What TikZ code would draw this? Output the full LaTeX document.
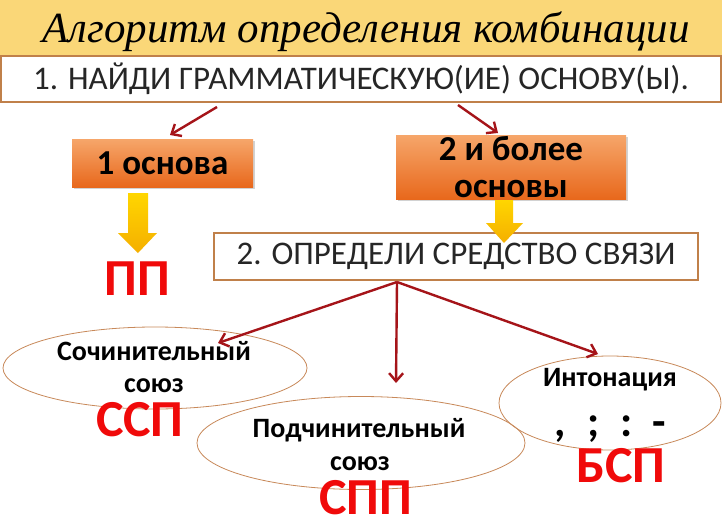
\documentclass[tikz,border=0pt]{standalone}
\usepackage{fontspec}
\setmainfont{Carlito}
\newfontfamily\titlefont{Liberation Serif}
\usetikzlibrary{arrows.meta,shapes.geometric,shadows}
\definecolor{band}{RGB}{250,215,120}
\definecolor{boxline}{RGB}{192,128,74}
\definecolor{arrowred}{RGB}{165,20,25}
\definecolor{abbrred}{RGB}{240,10,10}
\definecolor{orangetop}{RGB}{246,166,106}
\definecolor{orangebot}{RGB}{232,104,28}
\definecolor{ellline}{RGB}{200,137,90}
\definecolor{yeltop}{RGB}{255,214,0}
\definecolor{yelbot}{RGB}{245,175,0}
\begin{document}
\begin{tikzpicture}[x=1pt,y=-1pt,
  stepbox/.style={draw=boxline, line width=1.2pt, fill=white, inner sep=0pt,
    font=\fontsize{33}{38}\selectfont, text=black!85},
  orangebox/.style={top color=orangetop, bottom color=orangebot, inner sep=0pt,
    drop shadow={opacity=0.35,shadow xshift=2pt,shadow yshift=-2pt},
    align=center, font=\bfseries\fontsize{35}{37}\selectfont},
  connector/.style={draw=arrowred, line width=2.4pt,
    -{Straight Barb[length=8pt,width=14pt,line width=2.4pt]}},
  bigarrow/.style={top color=yeltop, bottom color=yelbot},
  oval/.style={ellipse, draw=ellline, line width=0.8pt, inner sep=0pt},
  ovaltext/.style={anchor=base, font=\bfseries\fontsize{28}{32}\selectfont},
  punct/.style={anchor=base, inner sep=0pt, font=\bfseries\fontsize{44}{44}\selectfont},
  abbr/.style={text=abbrred, font=\bfseries\fontsize{52}{52}\selectfont, inner sep=0pt}
]
\useasboundingbox (0,0) rectangle (722,519);
\fill[white] (0,0) rectangle (722,519);
% title band
\fill[band] (0,0) rectangle (722,56);
\node[anchor=base, font=\titlefont\itshape\fontsize{43}{48}\selectfont] (title) at (366,42) {Алгоритм определения комбинации};
% step 1
\node[stepbox, minimum width=720pt, minimum height=46pt] (s1) at (361,79) {1. НАЙДИ ГРАММАТИЧЕСКУЮ(ИЕ) ОСНОВУ(Ы).};
% orange boxes
\node[orangebox, minimum width=181pt, minimum height=48pt] (one) at (162.5,163) {1 основа};
\node[orangebox, minimum width=230pt, minimum height=64pt] (two) at (511,167) {2 и более\\основы};
% step 2
\node[stepbox, minimum width=484pt, minimum height=47pt] (s2) at (456,256.5) {2. ОПРЕДЕЛИ СРЕДСТВО СВЯЗИ};
% yellow arrows
\path[bigarrow] (128,193) -- (148,193) -- (148,233) -- (157,233) -- (138,253) -- (118,233) -- (128,233) -- cycle;
\path[bigarrow] (495,200) -- (513,200) -- (513,223) -- (523,223) -- (504,243) -- (486,223) -- (495,223) -- cycle;
% coordinates for connectors
\coordinate (a1s) at (217,107);
\coordinate (a1e) at (170,135);
\coordinate (a2s) at (458,105);
\coordinate (a2e) at (498,133);
\coordinate (hub) at (397,282);
\coordinate (t1) at (218,343);
\coordinate (t2) at (396,383);
\coordinate (t3) at (598,354);
\draw[connector] (a1s) -- (a1e);
\draw[connector] (a2s) -- (a2e);
% ovals
\node[oval, minimum width=304pt, minimum height=82pt] (e1) at (155,368) {};
\node[oval, minimum width=328pt, minimum height=93pt] (e2) at (361,443) {};
\node[oval, minimum width=222pt, minimum height=94pt] (e3) at (610,403) {};
\draw[connector] (hub) -- (t1);
\draw[connector] (hub) -- (t2);
\draw[connector] (hub) -- (t3);
% oval texts
\node[ovaltext] (e1a) at (154,360) {Сочинительный};
\node[ovaltext] (e1b) at (154,392) {союз};
\node[ovaltext] (e2a) at (359,437) {Подчинительный};
\node[ovaltext] (e2b) at (360,470) {союз};
\node[ovaltext] (e3a) at (610,386) {Интонация};
\node[punct] (e3b) at (610,436) {\makebox[33pt]{,}\makebox[33pt]{;}\makebox[33pt]{:}\makebox[33pt]{-}};
% abbreviations
\node[abbr] (pp) at (137,279) {ПП};
\node[abbr] (ssp) at (140,420) {ССП};
\node[abbr] (spp) at (366,498) {СПП};
\node[abbr] (bsp) at (621,466) {БСП};
\end{tikzpicture}
\end{document}
